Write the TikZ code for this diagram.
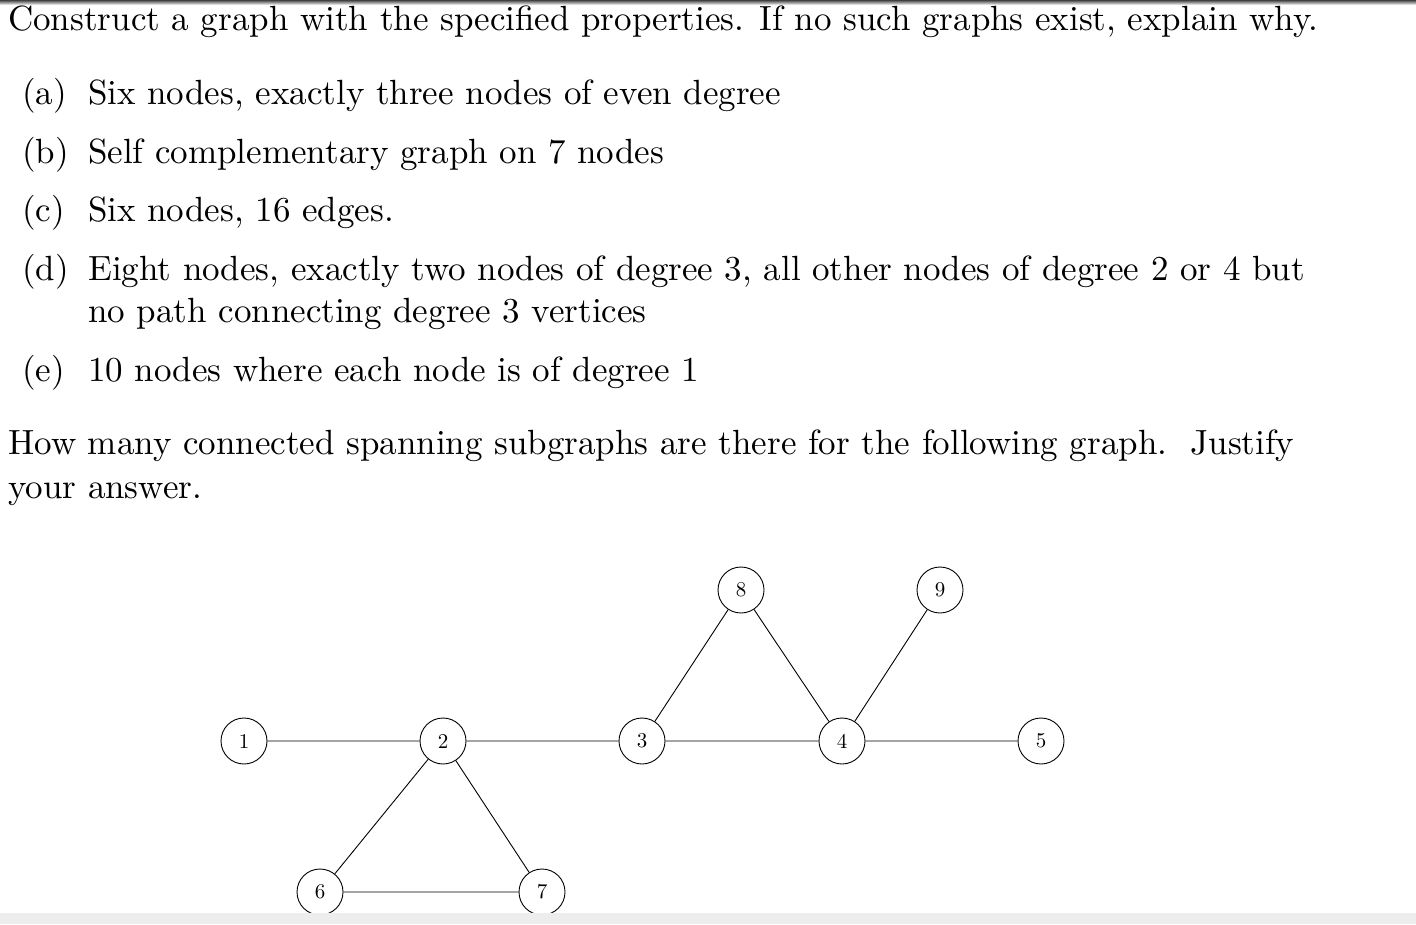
\documentclass[tikz,border=0pt]{standalone}
\usepackage{fontspec}
\setmainfont{lmroman10-regular.otf}
\begin{document}
\begin{tikzpicture}[x=1pt,y=-1pt,
  txt/.style={anchor=base west,inner sep=0pt,font=\fontsize{35}{42}\selectfont},
  vtx/.style={draw,circle,minimum size=46pt,inner sep=0pt,line width=0.9pt,font=\fontsize{21}{24}\selectfont},
  edge/.style={line width=0.9pt}]
\useasboundingbox (0,0) rectangle (1416,924);
\shade[top color=black!75,bottom color=white] (0,0) rectangle (1416,5);
\node[txt] (t0) at (8,30) {Construct a graph with the specified properties. If no such graphs exist, explain why.};
\node[txt] (la) at (22,104) {(a)}; \node[txt] (a) at (88,104) {Six nodes, exactly three nodes of even degree};
\node[txt] (lb) at (22,163) {(b)}; \node[txt] (b) at (88,163) {Self complementary graph on 7 nodes};
\node[txt] (lc) at (22,221) {(c)}; \node[txt] (c) at (88,221) {Six nodes, 16 edges.};
\node[txt] (ld) at (22,280) {(d)}; \node[txt] (d) at (88,280) {Eight nodes, exactly two nodes of degree 3, all other nodes of degree 2 or 4 but};
\node[txt] (d2) at (88,322) {no path connecting degree 3 vertices};
\node[txt] (le) at (22,381) {(e)}; \node[txt] (e) at (88,381) {10 nodes where each node is of degree 1};
\node[txt] (h1) at (8,454) {How many connected spanning subgraphs are there for the following graph.\ \ Justify};
\node[txt] (h2) at (8,498) {your answer.};
\node[vtx] (n1) at (244,741) {1};
\node[vtx] (n2) at (443,741) {2};
\node[vtx] (n3) at (642,741) {3};
\node[vtx] (n4) at (842,741) {4};
\node[vtx] (n5) at (1041,741) {5};
\node[vtx] (n8) at (741,590) {8};
\node[vtx] (n9) at (940,590) {9};
\node[vtx] (n6) at (320,892) {6};
\node[vtx] (n7) at (542,892) {7};
\draw[edge] (n1)--(n2) (n2)--(n3) (n3)--(n4) (n4)--(n5) (n3)--(n8) (n8)--(n4) (n4)--(n9) (n2)--(n6) (n2)--(n7) (n6)--(n7);
\fill[black!7] (0,913) rectangle (1416,924);
\end{tikzpicture}
\end{document}
